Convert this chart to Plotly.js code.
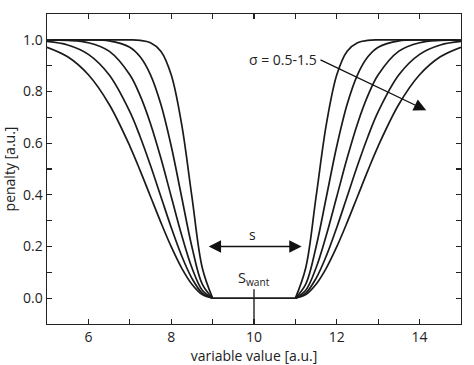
<!DOCTYPE html>
<html>
<head>
<meta charset="utf-8">
<script src="https://cdn.plot.ly/plotly-3.0.1.min.js"></script>
<style>html,body{margin:0;padding:0;background:#fff;}#chart{width:474px;height:365px;}</style>
</head>
<body>
<div id="chart"></div>
<script>
// x positions read along the left and right flanks
var xLeft  = [5, 5.5, 6, 6.5, 7, 7.25, 7.5, 7.75, 8, 8.25, 8.5, 8.75, 9];
var xRight = [11, 11.25, 11.5, 11.75, 12, 12.25, 12.5, 12.75, 13, 13.5, 14, 14.5, 15];
var xFlat  = [9, 11];
var yFlat  = [0, 0];

var sigmaLabels = ["0.5", "0.75", "1.0", "1.25", "1.5"];

// penalty values, left flank (x ascending)
var leftS050 = [1.0, 1.0, 1.0, 1.0, 0.9997, 0.9978, 0.9889, 0.9561, 0.8647, 0.6753, 0.3935, 0.1175, 0];
var leftS075 = [1.0, 1.0, 0.9997, 0.9961, 0.9714, 0.9343, 0.8647, 0.7506, 0.5889, 0.3935, 0.1993, 0.054, 0];
var leftS100 = [0.9997, 0.9978, 0.9889, 0.9561, 0.8647, 0.7837, 0.6753, 0.5422, 0.3935, 0.2452, 0.1175, 0.0308, 0];
var leftS125 = [0.994, 0.9802, 0.9439, 0.8647, 0.722, 0.6247, 0.5132, 0.3935, 0.2739, 0.1647, 0.0769, 0.0198, 0];
var leftS150 = [0.9714, 0.9343, 0.8647, 0.7506, 0.5889, 0.4937, 0.3935, 0.2934, 0.1993, 0.1175, 0.054, 0.0138, 0];

// right flank (x ascending)
var rightS050 = [0, 0.1175, 0.3935, 0.6753, 0.8647, 0.9561, 0.9889, 0.9978, 0.9997, 1.0, 1.0, 1.0, 1.0];
var rightS075 = [0, 0.054, 0.1993, 0.3935, 0.5889, 0.7506, 0.8647, 0.9343, 0.9714, 0.9961, 0.9997, 1.0, 1.0];
var rightS100 = [0, 0.0308, 0.1175, 0.2452, 0.3935, 0.5422, 0.6753, 0.7837, 0.8647, 0.9561, 0.9889, 0.9978, 0.9997];
var rightS125 = [0, 0.0198, 0.0769, 0.1647, 0.2739, 0.3935, 0.5132, 0.6247, 0.722, 0.8647, 0.9439, 0.9802, 0.994];
var rightS150 = [0, 0.0138, 0.054, 0.1175, 0.1993, 0.2934, 0.3935, 0.4937, 0.5889, 0.7506, 0.8647, 0.9343, 0.9714];

var leftSets  = [leftS050, leftS075, leftS100, leftS125, leftS150];
var rightSets = [rightS050, rightS075, rightS100, rightS125, rightS150];

var lineStyle = {color: "#1a1a1a", width: 1.7, shape: "spline", smoothing: 1};
var traces = [];
for (var i = 0; i < leftSets.length; i++) {
  traces.push({x: xLeft, y: leftSets[i], mode: "lines", line: lineStyle, name: "σ=" + sigmaLabels[i], hoverinfo: "skip"});
  traces.push({x: xRight, y: rightSets[i], mode: "lines", line: lineStyle, name: "σ=" + sigmaLabels[i], hoverinfo: "skip"});
}
traces.push({x: xFlat, y: yFlat, mode: "lines", line: {color: "#1a1a1a", width: 1.7}, hoverinfo: "skip"});

var fontFam = "'Open Sans', 'Noto Sans', sans-serif";
var axisCommon = {
  showgrid: false, zeroline: false, showline: true, linecolor: "#222", linewidth: 1.4,
  mirror: "ticks", ticks: "inside", ticklen: 5, tickwidth: 1.2, tickcolor: "#222",
  tickfont: {family: fontFam, size: 14, color: "#222"}
};

var layout = {
  width: 474, height: 365,
  margin: {l: 47, r: 13, t: 14, b: 41},
  paper_bgcolor: "#fff", plot_bgcolor: "#fff",
  showlegend: false,
  xaxis: Object.assign({}, axisCommon, {
    range: [5, 15], dtick: 2, tick0: 0,
    minor: {dtick: 1, ticks: "inside", ticklen: 5, tickwidth: 1.2, tickcolor: "#222"},
    title: {text: "variable value [a.u.]", font: {family: fontFam, size: 14, color: "#222"}, standoff: 6}
  }),
  yaxis: Object.assign({}, axisCommon, {
    range: [-0.1, 1.1], dtick: 0.2, tick0: 0, tickformat: ".1f",
    minor: {dtick: 0.1, ticks: "inside", ticklen: 5, tickwidth: 1.2, tickcolor: "#222"},
    title: {text: "penalty [a.u.]", font: {family: fontFam, size: 14, color: "#222"}, standoff: 5}
  }),
  shapes: [
    {type: "line", xref: "x", yref: "y", x0: 10, x1: 10, y0: -0.1, y1: 0.035, line: {color: "#222", width: 1.4}}
  ],
  annotations: [
    {x: 14.16, y: 0.727, ax: 11.57, ay: 0.925, xref: "x", yref: "y", axref: "x", ayref: "y",
     text: "", showarrow: true, arrowhead: 2, arrowsize: 1.9, arrowwidth: 1.3, arrowcolor: "#111"},
    {x: 10.7, y: 0.925, xref: "x", yref: "y", text: "σ = 0.5-1.5", showarrow: false,
     font: {family: fontFam, size: 14, color: "#222"}},
    {x: 11.15, y: 0.2, ax: 8.87, ay: 0.2, xref: "x", yref: "y", axref: "x", ayref: "y",
     text: "", showarrow: true, arrowhead: 2, startarrowhead: 2, arrowside: "end+start",
     arrowsize: 1.9, startarrowsize: 1.9, arrowwidth: 1.3, arrowcolor: "#111"},
    {x: 9.97, y: 0.246, xref: "x", yref: "y", text: "s", showarrow: false,
     font: {family: fontFam, size: 14, color: "#222"}},
    {x: 10.0, y: 0.078, xref: "x", yref: "y", text: "S<sub>want</sub>", showarrow: false,
     font: {family: fontFam, size: 14.5, color: "#222"}}
  ]
};

Plotly.newPlot("chart", traces, layout, {staticPlot: true, displayModeBar: false});
</script>
</body>
</html>
